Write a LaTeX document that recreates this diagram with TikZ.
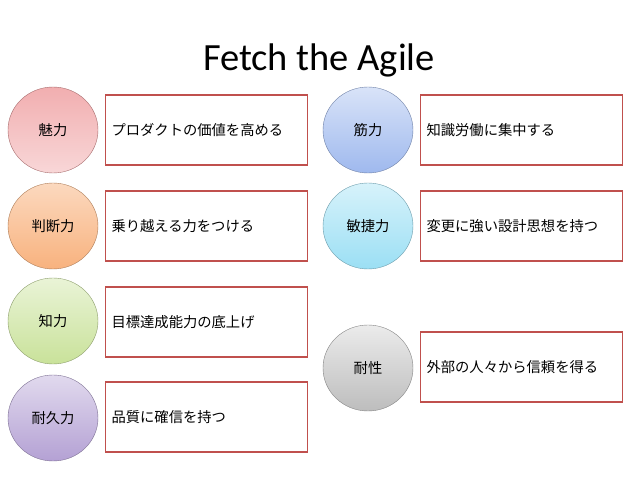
\documentclass[tikz,border=0pt]{standalone}
\usepackage{fontspec}
\setmainfont{Carlito}
\newfontfamily\jp{Noto Sans CJK JP}
\usetikzlibrary{shapes.geometric}
\begin{document}
\begin{tikzpicture}[x=1pt,y=-1pt,
  circ/.style={ellipse,draw=#1!70!black,minimum width=90pt,minimum height=86pt,inner sep=0pt,font=\jp\fontsize{14.3}{16}\selectfont},
  box/.style={draw=boxred,line width=1.1pt,minimum width=202pt,minimum height=70pt,anchor=west,text width=190pt,align=left,font=\jp\fontsize{14.3}{16}\selectfont}]
\definecolor{boxred}{HTML}{C0504D}
\useasboundingbox (0,0) rectangle (638,478);
\node[font=\fontsize{38.5}{42}\selectfont] (title) at (319,60) {Fetch the Agile};
\definecolor{c1}{HTML}{EE9A9C}\definecolor{c2}{HTML}{F8B27E}\definecolor{c3}{HTML}{C9E29A}
\definecolor{c4}{HTML}{B4A1D4}\definecolor{c5}{HTML}{9FB9EE}\definecolor{c6}{HTML}{9BDFF4}\definecolor{c7}{HTML}{BDBDBD}
\node[circ=c1,top color=c1!80,bottom color=c1!40] (a1) at (53,130) {魅力};
\node[circ=c2,top color=c2!50,bottom color=c2] (a2) at (53,226) {判断力};
\node[circ=c3,top color=c3!40,bottom color=c3] (a3) at (53,321) {知力};
\node[circ=c4,top color=c4!40,bottom color=c4] (a4) at (53,418) {耐久力};
\node[circ=c5,top color=c5!40,bottom color=c5] (b1) at (368,130) {筋力};
\node[circ=c6,top color=c6!40,bottom color=c6] (b2) at (368,226) {敏捷力};
\node[circ=c7,top color=c7!30,bottom color=c7] (b3) at (368,368) {耐性};
\node[box] (p1) at (105,130) {プロダクトの価値を高める};
\node[box] (p2) at (105,226) {乗り越える力をつける};
\node[box] (p3) at (105,322) {目標達成能力の底上げ};
\node[box] (p4) at (105,417) {品質に確信を持つ};
\node[box] (q1) at (420,130) {知識労働に集中する};
\node[box] (q2) at (420,226) {変更に強い設計思想を持つ};
\node[box] (q3) at (420,367) {外部の人々から信頼を得る};
\end{tikzpicture}
\end{document}
